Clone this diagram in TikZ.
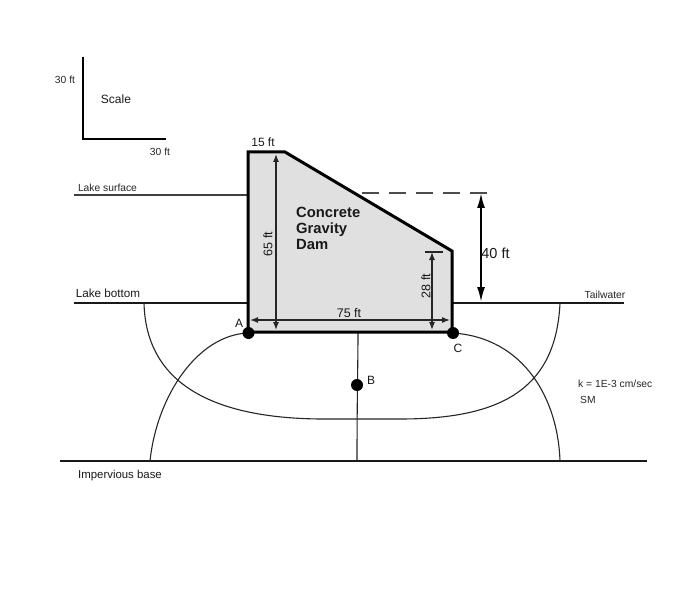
\documentclass[tikz,border=0pt]{standalone}
\usepackage{fontspec}
\setmainfont{Liberation Sans}
\usetikzlibrary{arrows.meta}
\tikzset{
  ground/.style={line width=2pt, draw=black!90},
  flow/.style={line width=1.1pt, draw=black!85},
  dam/.style={line width=3pt, line join=miter, draw=black, fill=black!12},
  dim/.style={line width=1.3pt, draw=black!85, {Latex[length=8pt,width=6pt]}-{Latex[length=8pt,width=6pt]}},
  dim-big/.style={line width=2pt, draw=black, {Latex[length=15pt,width=8pt]}-{Latex[length=15pt,width=8pt]}},
  node-dot/.style={circle, fill=black, minimum size=12pt, inner sep=0pt},
  lbl/.style={inner sep=0pt, font=\fontsize{10.3}{12}\selectfont, text=black!85},
  lbl-big/.style={inner sep=0pt, font=\fontsize{12}{14}\selectfont, text=black!90}
}
\begin{document}
\begin{tikzpicture}[x=1pt,y=-1pt]
  \useasboundingbox (0,0) rectangle (700,601);
  \fill[white] (0,0) rectangle (700,601);
  % Scale
  \coordinate (S1) at (83,57);
  \coordinate (S2) at (83,139);
  \coordinate (S3) at (166,139);
  \draw[line width=2.4pt] (S1) -- (S2) -- (S3);
  \node[lbl] (s-v) at (65,80) {30 ft};
  \node[lbl] (s-h) at (160,152) {30 ft};
  \node[lbl-big] (s-t) at (116,99) {Scale};
  % Water and ground lines
  \coordinate (Ls) at (74,195);
  \coordinate (Lw) at (248,195);
  \draw[line width=1.2pt, black!75] (Ls) -- (Lw);
  \coordinate (Bl) at (74,303);
  \coordinate (Br) at (248,303);
  \draw[ground] (Bl) -- (Br);
  \coordinate (Tl) at (452,303);
  \coordinate (Tr) at (624,303);
  \draw[ground] (Tl) -- (Tr);
  \coordinate (Il) at (60,461);
  \coordinate (Ir) at (647,461);
  \draw[ground] (Il) -- (Ir);
  % Flow lines
  \coordinate (A) at (248,333);
  \coordinate (C) at (453,333);
  \coordinate (F1) at (150,461);
  \coordinate (F2) at (560,461);
  \coordinate (F3) at (144,303);
  \coordinate (F4) at (560,303);
  \coordinate (F5) at (320,419);
  \coordinate (F8) at (400,419);
  \coordinate (F6) at (358,332);
  \coordinate (F7) at (357,461);
  \draw[flow] (F1) .. controls (157,395) and (198,335) .. (A);
  \draw[flow] (F2) .. controls (558,400) and (525,338) .. (C);
  \draw[flow] (F3) .. controls (146,385) and (215,418) .. (F5)
    -- (F8) .. controls (500,419) and (556,390) .. (F4);
  \draw[flow] (F6) .. controls (358,360) and (357,400) .. (F7);
  % Dam body
  \coordinate (D1) at (248,332);
  \coordinate (D2) at (248,152);
  \coordinate (D3) at (285,152);
  \coordinate (D4) at (452,251);
  \coordinate (D5) at (452,332);
  \draw[dam] (D1) -- (D2) -- (D3) -- (D4) -- (D5) -- cycle;
  % Dashed water level
  \coordinate (W1) at (362,193);
  \coordinate (W2) at (488,193);
  \draw[line width=1.3pt, black!70, dash pattern=on 17pt off 10pt] (W1) -- (W2);
  % Dimensions
  \coordinate (H1) at (276,154);
  \coordinate (H2) at (276,330);
  \draw[dim] (H1) -- (H2);
  \coordinate (W3) at (250,320);
  \coordinate (W4) at (450,320);
  \draw[dim] (W3) -- (W4);
  \coordinate (T1) at (432,252);
  \coordinate (T2) at (432,330);
  \draw[dim] (T1) -- (T2);
  \coordinate (T3) at (425,252);
  \coordinate (T4) at (443,252);
  \draw[line width=1.3pt, black!85] (T3) -- (T4);
  \coordinate (E1) at (481,193);
  \coordinate (E2) at (481,302);
  \draw[dim-big] (E1) -- (E2);
  % Points
  \node[node-dot] (pa) at (248.5,333) {};
  \node[node-dot] (pb) at (357,385) {};
  \node[node-dot] (pc) at (453,333) {};
  \node[lbl-big] (la) at (239,323) {A};
  \node[lbl-big] (lb) at (371,380) {B};
  \node[lbl-big] (lc) at (458,348) {C};
  % Labels
  \node[lbl] (lk) at (107.5,187.5) {Lake surface};
  \node[lbl-big, font=\fontsize{11.7}{13}\selectfont] (lo) at (108,293) {Lake bottom};
  \node[lbl] (lt) at (605,295) {Tailwater};
  \node[lbl-big, font=\fontsize{11.4}{13}\selectfont] (li) at (120,475.5) {Impervious base};
  \node[lbl, anchor=west] (lp) at (578,384) {k = 1E-3 cm/sec};
  \node[lbl, anchor=west] (ls) at (580,400) {SM};
  \node[lbl-big] (t15) at (263,142) {15 ft};
  \node[lbl-big, font=\fontsize{12.5}{14}\selectfont, rotate=90] (t65) at (268,244) {65 ft};
  \node[lbl-big, font=\fontsize{12.5}{14}\selectfont] (t75) at (349,313) {75 ft};
  \node[lbl-big, font=\fontsize{12.5}{14}\selectfont, rotate=90] (t28) at (426,286) {28 ft};
  \node[lbl-big, font=\fontsize{14.5}{14}\selectfont] (t40) at (495.5,253) {40 ft};
  \node[inner sep=0pt, anchor=north west, align=left, font=\fontsize{14.8}{16}\selectfont\bfseries, text=black!90] (tdam) at (296,207) {Concrete\\Gravity\\Dam};
\end{tikzpicture}
\end{document}
